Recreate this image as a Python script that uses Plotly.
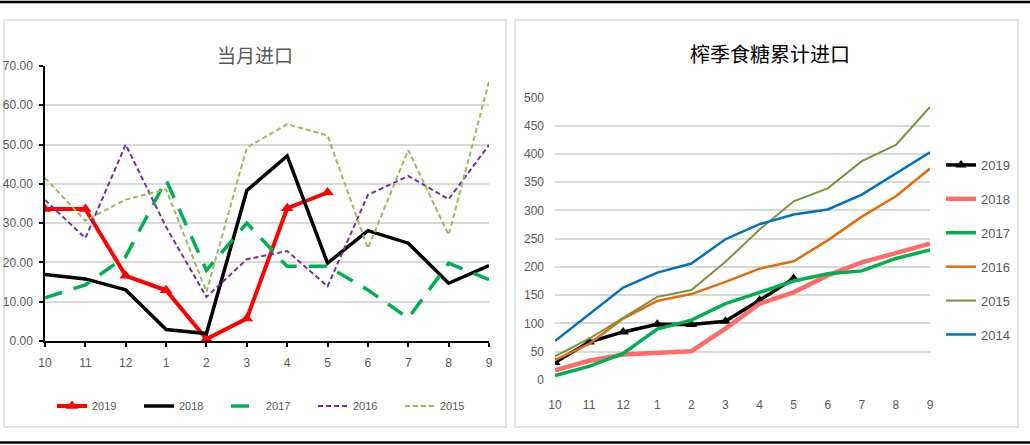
import plotly.graph_objects as go

months = ["10", "11", "12", "1", "2", "3", "4", "5", "6", "7", "8", "9"]

# Left: monthly imports (当月进口)
m2019 = [33.6, 33.6, 16.6, 12.9, 0.5, 5.7, 33.8, 37.8]
m2018 = [16.9, 15.8, 13.0, 2.9, 1.9, 38.3, 47.1, 19.8, 28.1, 24.9, 14.7, 19.2]
m2017 = [11.0, 14.3, 21.5, 41.0, 18.0, 30.0, 19.0, 19.0, 13.0, 5.8, 19.8, 15.6]
m2016 = [35.9, 26.2, 50.0, 29.0, 11.2, 20.8, 22.9, 13.9, 37.2, 42.0, 36.1, 49.9]
m2015 = [41.5, 30.6, 36.0, 38.6, 12.5, 49.2, 55.2, 52.3, 23.6, 48.6, 27.0, 66.0]

# Right: cumulative season imports (榨季食糖累计进口)
c2019 = [31, 67, 85, 98.6, 98, 104, 141, 179.5]
c2018 = [17, 34, 45, 48, 51, 91, 135, 155, 185, 208, 225, 241]
c2017 = [8, 24, 47, 90, 106, 135, 155, 175, 188, 193, 215, 230]
c2016 = [35, 64, 108.6, 140, 152, 173.5, 197, 210, 247, 289, 325, 374]
c2015 = [42, 73, 110, 147, 159, 209, 266, 316, 339, 387, 415.6, 483]
c2014 = [69, 117, 163.5, 190, 206, 249, 275.7, 292.8, 301.6, 328, 365, 402.6]

left_y_ticks = [0, 10, 20, 30, 40, 50, 60, 70]
left_y_text = ["%.2f" % v for v in left_y_ticks]
right_y_ticks = list(range(0, 501, 50))

W, H = 1030, 445
NUMFONT = "Liberation Sans, Arial, sans-serif"
CJK = "Noto Sans CJK SC"
GRAY = "#595959"

fig = go.Figure()

def px_x(p):
    return p / W

def px_y(p):
    return 1 - p / H

# left traces
fig.add_trace(go.Scatter(x=months[:len(m2019)], y=m2019, name="2019", mode="lines+markers",
                         line=dict(color="#ff0000", width=4),
                         marker=dict(symbol="triangle-up", size=11, color="#ff0000"),
                         xaxis="x", yaxis="y", legend="legend"))
fig.add_trace(go.Scatter(x=months, y=m2018, name="2018", mode="lines",
                         line=dict(color="#000000", width=3.5),
                         xaxis="x", yaxis="y", legend="legend"))
fig.add_trace(go.Scatter(x=months, y=m2017, name="2017", mode="lines",
                         line=dict(color="#00b050", width=3.5, dash="18px,12px"),
                         xaxis="x", yaxis="y", legend="legend"))
fig.add_trace(go.Scatter(x=months, y=m2016, name="2016", mode="lines",
                         line=dict(color="#7030a0", width=2, dash="5px,3px"),
                         xaxis="x", yaxis="y", legend="legend"))
fig.add_trace(go.Scatter(x=months, y=m2015, name="2015", mode="lines",
                         line=dict(color="#9bbb59", width=2, dash="5px,3px"),
                         xaxis="x", yaxis="y", legend="legend"))

# right traces
right_series = [
    ("2019", c2019, "#000000", 3.5),
    ("2018", c2018, "#ff6b6b", 4.5),
    ("2017", c2017, "#00b050", 3.5),
    ("2016", c2016, "#e46c0a", 2.5),
    ("2015", c2015, "#77933c", 2),
    ("2014", c2014, "#0070c0", 2.5),
]
for name, vals, col, w in right_series:
    if name == "2019":
        fig.add_trace(go.Scatter(x=months[:len(vals)], y=vals, name=name, mode="lines+markers",
                                 line=dict(color=col, width=w),
                                 marker=dict(symbol="triangle-up", size=10, color=col),
                                 xaxis="x2", yaxis="y2", legend="legend2", legendgroup="r" + name))
    else:
        fig.add_trace(go.Scatter(x=months[:len(vals)], y=vals, name=name, mode="lines",
                                 line=dict(color=col, width=w),
                                 xaxis="x2", yaxis="y2", legend="legend2", legendgroup="r" + name))

tickfont = dict(family=NUMFONT, size=12, color=GRAY)

fig.update_layout(
    width=W, height=H,
    margin=dict(l=0, r=0, t=0, b=0, autoexpand=False),
    paper_bgcolor="white", plot_bgcolor="white",
    showlegend=True,
    xaxis=dict(domain=[px_x(45), px_x(489)], type="category", categoryorder="array",
               categoryarray=months, range=[0, 11], anchor="y",
               showline=True, linecolor="black", linewidth=1.5,
               ticks="outside", ticklen=4, tickcolor="black", tickwidth=1.5,
               tickfont=tickfont, ticklabelstandoff=6, showgrid=False, zeroline=False,
               fixedrange=True),
    yaxis=dict(domain=[px_y(341), px_y(66)], range=[0, 70], anchor="x",
               tickvals=left_y_ticks, ticktext=left_y_text,
               showline=True, linecolor="black", linewidth=1.5,
               ticks="outside", ticklen=4, tickcolor="black", tickwidth=1.5,
               tickfont=tickfont, ticklabelstandoff=4,
               showgrid=True, gridcolor="#d9d9d9", gridwidth=1.5, zeroline=False),
    xaxis2=dict(domain=[px_x(555), px_x(930)], type="category", categoryorder="array",
                categoryarray=months, range=[0, 11], anchor="y2",
                showline=False, ticks="", tickfont=tickfont, ticklabelstandoff=16,
                showgrid=False, zeroline=False),
    yaxis2=dict(domain=[px_y(380), px_y(97.3)], range=[0, 500], anchor="x2",
                tickvals=right_y_ticks, showline=False, ticks="",
                tickfont=tickfont, ticklabelstandoff=10,
                showgrid=True, gridcolor="#d9d9d9", gridwidth=1.5, zeroline=False),
    legend=dict(orientation="h", x=px_x(52), y=px_y(406), xanchor="left", yanchor="middle",
                font=dict(family=NUMFONT, size=11, color=GRAY),
                entrywidth=42, entrywidthmode="pixels", bgcolor="rgba(0,0,0,0)",
                itemwidth=30),
    legend2=dict(orientation="v", x=px_x(941), y=px_y(150), xanchor="left", yanchor="top",
                 font=dict(family=NUMFONT, size=13, color=GRAY), tracegroupgap=14,
                 bgcolor="rgba(0,0,0,0)", itemwidth=30),
    annotations=[
        dict(text="当月进口", x=px_x(255), y=px_y(55), xref="paper", yref="paper",
             xanchor="center", yanchor="middle",
             showarrow=False, font=dict(family=CJK, size=19, color=GRAY)),
        dict(text="榨季食糖累计进口", x=px_x(770), y=px_y(54), xref="paper", yref="paper",
             xanchor="center", yanchor="middle",
             showarrow=False, font=dict(family=CJK, size=20, color="black")),
    ],
    shapes=[
        dict(type="line", xref="paper", yref="paper", x0=0, x1=1, y0=px_y(2), y1=px_y(2),
             line=dict(color="black", width=2.5)),
        dict(type="line", xref="paper", yref="paper", x0=0, x1=1, y0=px_y(442.5), y1=px_y(442.5),
             line=dict(color="black", width=2.5)),
        dict(type="rect", xref="paper", yref="paper", x0=px_x(4), x1=px_x(506),
             y0=px_y(427), y1=px_y(20), line=dict(color="#d9d9d9", width=1.5), layer="below"),
        dict(type="rect", xref="paper", yref="paper", x0=px_x(515), x1=px_x(1018),
             y0=px_y(427), y1=px_y(20), line=dict(color="#d9d9d9", width=1.5), layer="below"),
    ],
)

fig.write_html("out.html", post_script="document.body.style.margin='0px';")
